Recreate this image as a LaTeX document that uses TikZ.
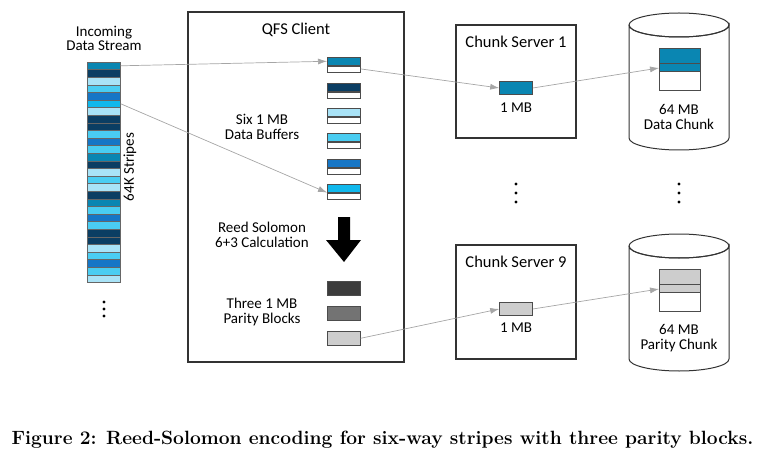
\documentclass[tikz,border=0pt]{standalone}
\usepackage{fontspec}
\setmainfont{Carlito}
\usepackage{tikz}
\usetikzlibrary{arrows.meta}

\definecolor{cteal}{HTML}{0A86B2}
\definecolor{cnavy}{HTML}{0B3E63}
\definecolor{clight}{HTML}{A9E3F7}
\definecolor{cmid}{HTML}{4ACDF2}
\definecolor{cblue}{HTML}{1676C6}
\definecolor{ccyan}{HTML}{10B8EC}
\definecolor{pdark}{HTML}{3C3C3C}
\definecolor{pmid}{HTML}{737373}
\definecolor{plight}{HTML}{CDCDCD}

\tikzset{
  lbl/.style={font=\fontsize{15}{17}\selectfont, align=center},
  ttl/.style={font=\fontsize{16.5}{19}\selectfont},
  frame/.style={draw=black!80, line width=1.2pt},
  link/.style={draw=black!35, line width=0.7pt, -{Latex[length=9pt,width=6pt]}},
  stripe/.style={draw=black!60, line width=0.5pt, minimum width=33pt, minimum height=7.6pt, inner sep=0pt},
  buf/.style={draw=black!70, line width=0.6pt, minimum width=33pt, minimum height=8pt, inner sep=0pt},
}

\begin{document}
\begin{tikzpicture}[x=1pt,y=-1pt]
  \useasboundingbox (0,0) rectangle (775,462);

  % incoming stream
  \node[lbl] (inc) at (104,38) {Incoming\\[-3pt]Data Stream};
  \foreach \c [count=\i] in {cteal,cnavy,clight,cmid,cblue,ccyan,clight,cnavy,cnavy,cmid,cblue,cmid,cteal,cnavy,clight,cmid,clight,cnavy,cteal,cmid,cblue,cmid,cnavy,cnavy,clight,cmid,cblue,cmid,clight}
    \node[stripe, fill=\c] (s\i) at (104,{62+7.6*(\i-0.5)}) {};
  \node[lbl, rotate=90] (ks) at (130,167) {64K Stripes};
  \foreach \y in {302,309,316} \fill (104,\y) circle (1.6);

  % client
  \draw[frame] (188,12) rectangle (404,362);
  \node[ttl] (qfs) at (296,30) {QFS Client};
  \foreach \c/\y [count=\i] in {cteal/57,cnavy/83,clight/108,cmid/133,cblue/159,ccyan/184} {
    \node[buf, fill=\c, anchor=north west] (b\i) at (327,\y) {};
    \node[buf, fill=white, minimum height=6pt, anchor=north] (w\i) at (b\i.south) {};
  }
  \node[lbl] (six) at (262,127) {Six 1 MB\\[-2pt]Data Buffers};
  \node[lbl] (rs) at (262,235) {Reed Solomon\\[-2pt]6+3 Calculation};
  \fill (338,217) -- (350,217) -- (350,240) -- (361,240) -- (344,262) -- (326,240) -- (338,240) -- cycle;
  \foreach \c/\y [count=\i] in {pdark/281,pmid/306,plight/331}
    \node[buf, fill=\c, minimum height=14pt, anchor=north west] (p\i) at (327,\y) {};
  \node[lbl] (three) at (262,312) {Three 1 MB\\[-2pt]Parity Blocks};

  % chunk servers
  \draw[frame] (456,25) rectangle (576,138);
  \node[ttl] (cs1) at (516,42) {Chunk Server 1};
  \node[buf, fill=cteal, minimum height=13pt] (m1) at (516,88) {};
  \node[lbl] (mb1) at (516,108) {1 MB};
  \draw[frame] (456,245) rectangle (576,359);
  \node[ttl] (cs9) at (516,262) {Chunk Server 9};
  \node[buf, fill=plight, minimum height=13pt] (m9) at (516,309) {};
  \node[lbl] (mb9) at (516,328) {1 MB};
  \foreach \x in {516,679} \foreach \y in {184,193,202} \fill (\x,\y) circle (1.6);

  % disks
  \foreach \t/\c/\n/\txt in {25/cteal/d1/Data Chunk,246/plight/d9/Parity Chunk} {
    \draw[frame, line width=1pt, fill=white] (629,\t) -- (629,\t+113) arc[start angle=180, end angle=0, x radius=50, y radius=12]
      -- (729,\t) arc[start angle=0, end angle=180, x radius=50, y radius=12];
    \draw[frame, line width=1pt] (679,\t) ellipse[x radius=50, y radius=12];
    \draw[draw=black!70, line width=0.6pt] (659,\t+23) rectangle (700,\t+65);
    \fill[\c, draw=black!70, line width=0.6pt] (659,\t+23) rectangle (700,\t+38);
    \fill[\c, draw=black!70, line width=0.6pt] (659,\t+38) rectangle (700,\t+46);
    \coordinate (\n) at (659,\t+43);
    \node[lbl] at (679,\t+92) {64 MB\\[-2pt]\txt};
  }

  % links
  \draw[link] (s1.east) -- (b1.west);
  \draw[link] (s6.east) -- (w6.north west);
  \draw[link] (w1.east) -- (m1.west);
  \draw[link] (p3.east) -- (m9.west);
  \draw[link] (m1.east) -- (d1);
  \draw[link] (m9.east) -- (d9);

  \node[anchor=west] (cap) at (8,440)
    {\fontspec{Latin Modern Roman}\fontsize{19.2}{22}\selectfont\bfseries Figure 2: Reed-Solomon encoding for six-way stripes with three parity blocks.};
\end{tikzpicture}
\end{document}
